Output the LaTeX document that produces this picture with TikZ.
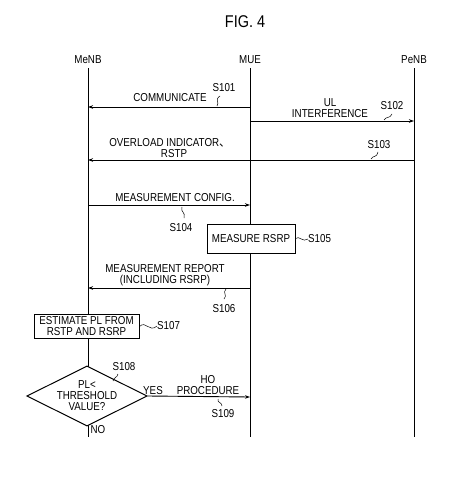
\documentclass[tikz,border=0pt]{standalone}
\usepackage{fontspec}
\setmainfont{Liberation Sans}[FakeStretch=0.85]
\newfontfamily\cjkfont{Noto Sans CJK JP}
\usetikzlibrary{arrows.meta,shapes.geometric}
\begin{document}
\begin{tikzpicture}[x=1pt,y=-1pt,
  lbl/.style={inner sep=0pt,font=\fontsize{11.5}{11}\selectfont,align=center},
  life/.style={line width=1pt},
  msg/.style={line width=0.9pt,-{Stealth[length=5pt,width=3.5pt]}},
  sq/.style={line width=0.5pt},
  stepbox/.style={draw,line width=1pt,fill=white,inner sep=2pt,font=\fontsize{11.5}{11}\selectfont,align=center}]
\useasboundingbox (0,0) rectangle (474,479);
\node[inner sep=0pt,font=\fontsize{17}{18}\selectfont] (title) at (245,22) {FIG. 4};
\node[lbl] (menb) at (88,60) {MeNB};
\node[lbl] (mue) at (250,60) {MUE};
\node[lbl] (penb) at (414,60) {PeNB};
% lifeline coordinates
\coordinate (mtop) at (88,68); \coordinate (mbot) at (88,437);
\coordinate (utop) at (250,68); \coordinate (ubot) at (250,437);
\coordinate (ptop) at (414,68); \coordinate (pbot) at (414,437);
\draw[life] (mtop) -- (mbot);
\draw[life] (utop) -- (ubot);
\draw[life] (ptop) -- (pbot);
% S101
\coordinate (a1u) at (250,107); \coordinate (a1m) at (88,107);
\draw[msg] (a1u) -- (a1m);
\node[lbl] (t101) at (170,98) {COMMUNICATE};
\node[lbl] (s101) at (224,88) {S101};
\coordinate (q101a) at (217,106); \coordinate (q101b) at (220,96);
\draw[sq] (q101a) .. controls (220,102) and (214,100) .. (q101b);
% S102
\coordinate (a2u) at (250,121); \coordinate (a2p) at (414,121);
\draw[msg] (a2u) -- (a2p);
\node[lbl] (t102) at (330,108) {UL\\INTERFERENCE};
\node[lbl] (s102) at (392,106) {S102};
\coordinate (q102a) at (384,120); \coordinate (q102b) at (392,114);
\draw[sq] (q102a) .. controls (386,116) and (390,119) .. (q102b);
% S103
\coordinate (a3p) at (414,160); \coordinate (a3m) at (88,160);
\draw[msg] (a3p) -- (a3m);
\node[lbl] (t103a) at (170,143) {OVERLOAD INDICATOR{\cjkfont 、}};
\node[lbl] (t103b) at (174,153.5) {RSTP};
\node[lbl] (s103) at (379,145) {S103};
\coordinate (q103a) at (371,159); \coordinate (q103b) at (378,152);
\draw[sq] (q103a) .. controls (373,155) and (377,158) .. (q103b);
% S104
\coordinate (a4m) at (88,205); \coordinate (a4u) at (250,205);
\draw[msg] (a4m) -- (a4u);
\node[lbl] (t104) at (175,198) {MEASUREMENT CONFIG.};
\node[lbl] (s104) at (181,228) {S104};
\coordinate (q104a) at (182,207); \coordinate (q104b) at (184,218);
\draw[sq] (q104a) .. controls (180,212) and (186,212) .. (q104b);
% S105
\node[stepbox,minimum width=88pt,minimum height=29pt,inner sep=0pt] (b105) at (251,238.5) {MEASURE RSRP};
\node[lbl,anchor=west] (s105) at (308,239) {S105};
\draw[sq] (b105.east) .. controls (299,235) and (303,243) .. (s105.west);
% S106
\coordinate (a6u) at (250,288); \coordinate (a6m) at (88,288);
\draw[msg] (a6u) -- (a6m);
\node[lbl] (t106) at (165,275.5) {MEASUREMENT REPORT\\(INCLUDING RSRP)};
\node[lbl] (s106) at (224,309) {S106};
\coordinate (q106a) at (226,289); \coordinate (q106b) at (224,299);
\draw[sq] (q106a) .. controls (222,293) and (228,295) .. (q106b);
% S107
\node[stepbox,minimum width=105pt,minimum height=24pt,inner sep=0pt] (b107) at (86.5,326.5) {ESTIMATE PL FROM\\RSTP AND RSRP};
\node[lbl,anchor=west] (s107) at (157,326) {S107};
\draw[sq] (b107.east) .. controls (146,320) and (149,333) .. (s107.west);
% S108
\node[diamond,draw,line width=1pt,fill=white,minimum width=110pt,minimum height=56pt,inner sep=0pt,aspect=2,
  font=\fontsize{11.5}{11}\selectfont,align=center] (d108) at (87,396) {PL<\\THRESHOLD\\VALUE?};
\node[lbl] (s108) at (124,367) {S108};
\coordinate (q108a) at (113,381); \coordinate (q108b) at (118,374);
\draw[sq] (q108a) .. controls (114,377) and (117,378) .. (q108b);
\node[lbl] (yes) at (153,391) {YES};
\node[lbl] (no) at (98,430) {NO};
% S109
\coordinate (a9u) at (250,397);
\draw[msg] (d108.east) -- (a9u);
\node[lbl] (t109) at (208,385.5) {HO\\PROCEDURE};
\node[lbl] (s109) at (223,414) {S109};
\coordinate (q109a) at (218,399); \coordinate (q109b) at (222,406);
\draw[sq] (q109a) .. controls (217,403) and (222,402) .. (q109b);
\end{tikzpicture}
\end{document}
